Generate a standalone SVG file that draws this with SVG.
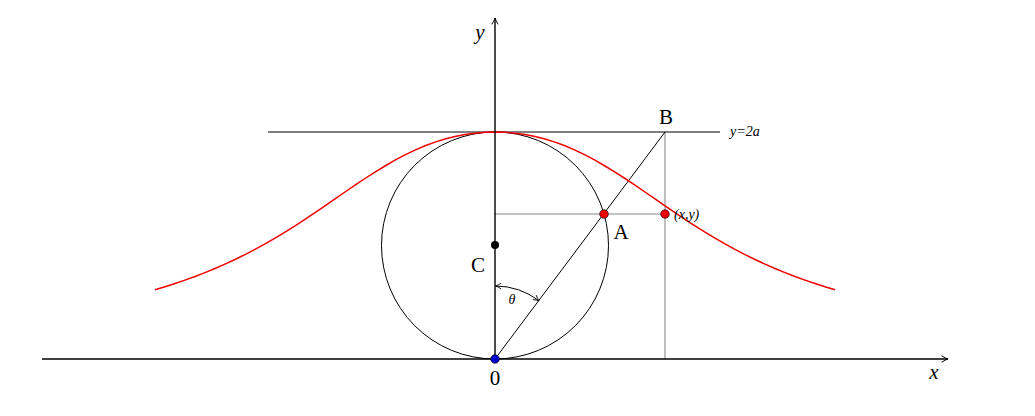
<svg xmlns="http://www.w3.org/2000/svg" width="1035" height="416" viewBox="0 0 1035 416">
<style>
.t{font-family:"Liberation Serif","DejaVu Serif",serif;fill:#000}
.i{font-style:italic}
.ax{stroke:#000;stroke-width:1.4;fill:none}
.ln{stroke:#000;stroke-width:1;fill:none}
.gr{stroke:#888;stroke-width:1.1;fill:none}
</style>
<defs>
<marker id="ah" viewBox="0 0 10 10" refX="9" refY="5" markerWidth="8" markerHeight="8" markerUnits="userSpaceOnUse" orient="auto">
<path d="M1,1 Q6,4 9,5 Q6,6 1,9" fill="none" stroke="#000" stroke-width="1.2"/>
</marker>
<marker id="sa" viewBox="0 0 10 10" refX="9" refY="5" markerWidth="7" markerHeight="7" markerUnits="userSpaceOnUse" orient="auto-start-reverse">
<path d="M1,1 Q6,4 9,5 Q6,6 1,9" fill="none" stroke="#000" stroke-width="1.2"/>
</marker>
</defs>
<rect width="1035" height="416" fill="#fff"/>
<g id="connectors">
<line class="gr" x1="495" y1="214" x2="665" y2="214"/>
<line class="gr" x1="665" y1="132" x2="665" y2="359"/>
<line class="ln" x1="268" y1="132" x2="720" y2="132"/>
<circle class="ln" cx="495" cy="245.5" r="113.5"/>
<line class="ln" x1="495" y1="359" x2="665" y2="132"/>
<path id="witch" fill="none" stroke="#e00" stroke-width="1.5" d="M155,289.7 L165,286.7 L175,283.5 L185,280.1 L195,276.5 L205,272.6 L215,268.5 L225,264.1 L235,259.5 L245,254.6 L255,249.4 L265,243.9 L275,238.1 L285,232.1 L295,225.8 L305,219.3 L315,212.6 L325,205.8 L335,198.9 L345,192.0 L355,185.2 L365,178.5 L375,172.1 L385,166.0 L395,160.2 L405,154.9 L415,150.1 L425,145.8 L435,142.1 L445,139.0 L455,136.5 L465,134.6 L475,133.2 L485,132.3 L495,132 L505,132.3 L515,133.2 L525,134.6 L535,136.5 L545,139.0 L555,142.1 L565,145.8 L575,150.1 L585,154.9 L595,160.2 L605,166.0 L615,172.1 L625,178.5 L635,185.2 L645,192.0 L655,198.9 L665,205.8 L675,212.6 L685,219.3 L695,225.8 L705,232.1 L715,238.1 L725,243.9 L735,249.4 L745,254.6 L755,259.5 L765,264.1 L775,268.5 L785,272.6 L795,276.5 L805,280.1 L815,283.5 L825,286.7 L835,289.7"/>
<line class="ax" x1="42" y1="359" x2="948" y2="359" marker-end="url(#ah)"/>
<line class="ax" x1="495" y1="359" x2="495" y2="18" marker-end="url(#ah)"/>
<path class="ln" d="M495.6,286 A73,73 0 0 1 538.9,300.7" marker-start="url(#sa)" marker-end="url(#sa)"/>
</g>
<g id="origin"><circle cx="495" cy="359" r="4.3" fill="#00c" stroke="#000" stroke-width="0.6"/><text class="t" x="495" y="385" font-size="21" text-anchor="middle">0</text></g>
<g id="C"><circle cx="495" cy="245" r="4" fill="#000"/><text class="t" x="478" y="272" font-size="21" text-anchor="middle">C</text></g>
<g id="A"><circle cx="604" cy="214" r="4.3" fill="#e00" stroke="#000" stroke-width="0.6"/><text class="t" x="621" y="239" font-size="21" text-anchor="middle">A</text></g>
<g id="P"><circle cx="665" cy="214" r="4.3" fill="#e00" stroke="#000" stroke-width="0.6"/><text class="t i" x="674" y="219" font-size="14">(x,y)</text></g>
<g id="B"><text class="t" x="666" y="124" font-size="21" text-anchor="middle">B</text></g>
<g id="lineLabel"><text class="t i" x="730" y="136" font-size="14">y=2a</text></g>
<g id="theta"><text class="t i" x="512" y="304" font-size="14" text-anchor="middle">θ</text></g>
<g id="xlabel"><text class="t i" x="934" y="379" font-size="21" text-anchor="middle">x</text></g>
<g id="ylabel"><text class="t i" x="480" y="39" font-size="21" text-anchor="middle">y</text></g>
</svg>
